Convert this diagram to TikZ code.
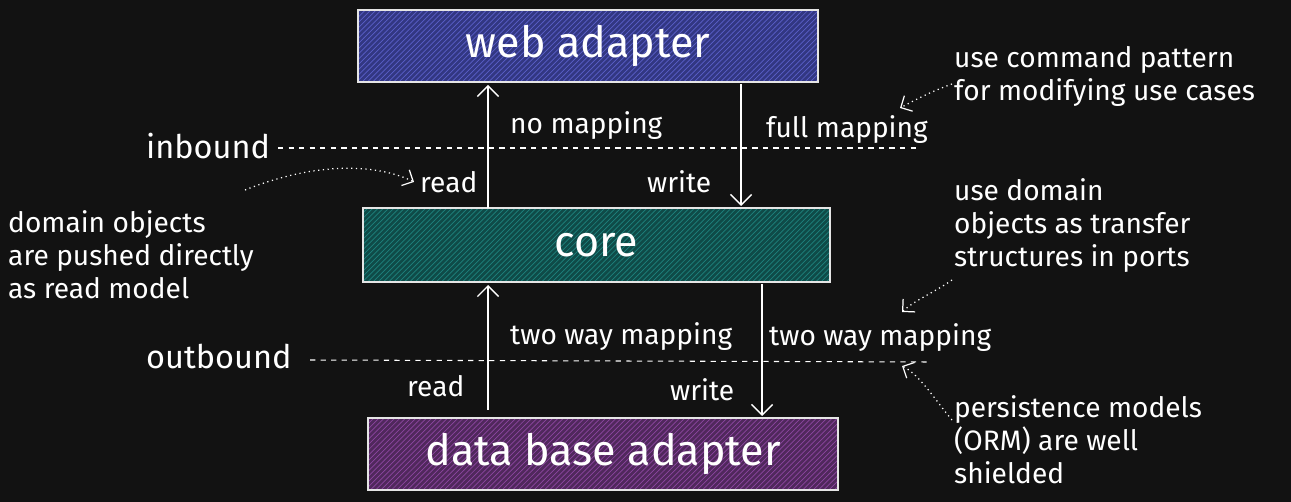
\documentclass[tikz,border=0pt]{standalone}
\usepackage{fontspec}
\setmainfont{Fira Sans}
\usetikzlibrary{arrows.meta,patterns}
\definecolor{bg}{RGB}{18,18,18}
\definecolor{webf}{RGB}{50,55,130}
\definecolor{webp}{RGB}{90,95,200}
\definecolor{coref}{RGB}{15,75,72}
\definecolor{corep}{RGB}{30,130,125}
\definecolor{dbf}{RGB}{80,40,92}
\definecolor{dbp}{RGB}{140,70,160}
\begin{document}
\begin{tikzpicture}[x=0.02cm,y=-0.02cm,
 box/.style={draw=white!90!black,line width=0.8pt,text=white,font=\fontsize{24.5}{26}\selectfont},
 lab/.style={text=white,font=\fontsize{16}{19}\selectfont,align=left},
 big/.style={text=white,font=\fontsize{18.5}{20}\selectfont},
 arr/.style={draw=white,line width=0.8pt,-{Straight Barb[length=6pt]}},
 dashln/.style={draw=white,dashed,line width=0.6pt},
 dot/.style={draw=white,dotted,line width=0.7pt,-{Straight Barb[length=5pt]}}]
\fill[bg] (0,0) rectangle (1291,502);
\useasboundingbox (0,0) rectangle (1291,502);
\fill[webf] (358,10) rectangle (818,82);
\fill[pattern=north east lines,pattern color=webp] (358,10) rectangle (818,82);
\node[box,minimum width=460*0.02cm,minimum height=72*0.02cm] (web) at (588,46) {web adapter};
\fill[coref] (363,208) rectangle (830,282);
\fill[pattern=north east lines,pattern color=corep] (363,208) rectangle (830,282);
\node[box,minimum width=467*0.02cm,minimum height=74*0.02cm] (core) at (596.5,245) {core};
\fill[dbf] (368,418) rectangle (838,490);
\fill[pattern=north east lines,pattern color=dbp] (368,418) rectangle (838,490);
\node[box,minimum width=470*0.02cm,minimum height=72*0.02cm] (db) at (603,454) {data base adapter};
\coordinate (a1s) at (488,208); \coordinate (a1e) at (488,85);
\coordinate (a2s) at (741,84); \coordinate (a2e) at (741,206);
\coordinate (a3s) at (488,410); \coordinate (a3e) at (488,285);
\coordinate (a4s) at (762,284); \coordinate (a4e) at (762,416);
\draw[arr] (a1s) -- (a1e);
\draw[arr] (a2s) -- (a2e);
\draw[arr] (a3s) -- (a3e);
\draw[arr] (a4s) -- (a4e);
\node[lab,anchor=west] (nm) at (504,126) {no mapping};
\node[lab,anchor=west] (fm) at (760,130) {full mapping};
\node[lab,anchor=west] (r1) at (414,182) {read};
\node[lab,anchor=west] (w1) at (641,182) {write};
\node[lab,anchor=west] (tw1) at (504,337) {two way mapping};
\node[lab,anchor=west] (tw2) at (763,338) {two way mapping};
\node[lab,anchor=west] (r2) at (401,386) {read};
\node[lab,anchor=west] (w2) at (664,390) {write};
\node[big,anchor=west] (in) at (140,146) {inbound};
\node[big,anchor=west] (out) at (140,357) {outbound};
\coordinate (d1a) at (278,148); \coordinate (d1b) at (918,148);
\coordinate (d2a) at (310,360); \coordinate (d2b) at (930,362);
\draw[dashln] (d1a) -- (d1b);
\draw[dashln] (d2a) -- (d2b);
\node[lab,anchor=north west] (n1) at (2,204) {domain objects\\are pushed directly\\as read model};
\node[lab,anchor=north west] (n2) at (948,40) {use command pattern\\for modifying use cases};
\node[lab,anchor=north west] (n3) at (948,172) {use domain\\objects as transfer\\structures in ports};
\node[lab,anchor=north west] (n4) at (948,389) {persistence models\\(ORM) are well\\shielded};
\coordinate (c1) at (245,190);
\coordinate (c2) at (952,84);
\coordinate (c3) at (952,280);
\coordinate (c4) at (952,420);
\draw[dot] (c1) .. controls (320,160) and (380,165) .. (r1.west);
\draw[dot] (c2) .. controls (930,92) and (915,100) .. (900,108);
\draw[dot] (c3) .. controls (935,292) and (915,300) .. (902,312);
\draw[dot] (c4) .. controls (935,400) and (920,375) .. (902,366);
\end{tikzpicture}
\end{document}
